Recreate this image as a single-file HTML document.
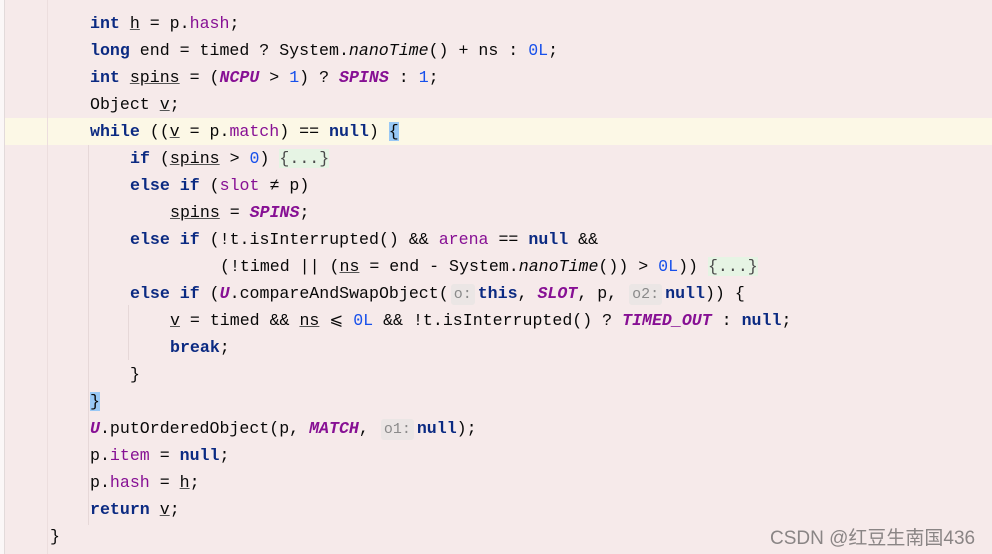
<!DOCTYPE html>
<html><head><meta charset="utf-8"><style>
html,body{margin:0;padding:0}
body{width:992px;height:554px;background:#f6eaea;position:relative;overflow:hidden;font-family:"Liberation Mono",monospace;font-size:16.6px;color:#080808}
.gut{position:absolute;left:0;top:0;width:4px;height:554px;background:#fbf7f7;border-right:1px solid #e2dada}
.g2{position:absolute;left:47px;top:0;width:1px;height:554px;background:#ecdede}
.hl{position:absolute;left:0;top:118px;width:992px;height:27px;background:#fcf8e6}
.l{position:absolute;left:0;height:27px;line-height:27px;white-space:pre}
.k{color:#0b2a82;font-weight:bold}
.f{color:#871094}
.fi{color:#871094;font-style:italic;font-weight:bold}
.n{color:#1750eb}
.i{font-style:italic}
.u{text-decoration:underline;text-decoration-color:#555}
.h{display:inline-block;background:#ebe6e5;color:#8a8a8a;font-size:15px;line-height:21px;padding:0 3px;border-radius:3px;margin:0 3px 0 2px}
.fold{background:#e6f4e4;color:#4a4a4a}
.br{background:#99c8f5}
.wm{position:absolute;left:770px;top:523px;font-family:"Liberation Sans","Noto Sans CJK SC",sans-serif;font-size:19px;color:#8a8585}
.vg{position:absolute;width:1px;background:#e6d8d8}
</style></head><body>
<div class="hl"></div>
<div class="gut"></div>
<div class="g2"></div>
<div class="vg" style="left:88px;top:145px;height:380px"></div>
<div class="vg" style="left:128px;top:305px;height:55px"></div>
<div class="l" style="top:10px;left:90px"><span class="k">int</span> <span class="u">h</span> = p.<span class="f">hash</span>;</div>
<div class="l" style="top:37px;left:90px"><span class="k">long</span> end = timed ? System.<span class="i">nanoTime</span>() + ns : <span class="n">0L</span>;</div>
<div class="l" style="top:64px;left:90px"><span class="k">int</span> <span class="u">spins</span> = (<span class="fi">NCPU</span> &gt; <span class="n">1</span>) ? <span class="fi">SPINS</span> : <span class="n">1</span>;</div>
<div class="l" style="top:91px;left:90px">Object <span class="u">v</span>;</div>
<div class="l" style="top:118px;left:90px"><span class="k">while</span> ((<span class="u">v</span> = p.<span class="f">match</span>) == <span class="k">null</span>) <span class="br">{</span></div>
<div class="l" style="top:145px;left:130px"><span class="k">if</span> (<span class="u">spins</span> &gt; <span class="n">0</span>) <span class="fold">{...}</span></div>
<div class="l" style="top:172px;left:130px"><span class="k">else if</span> (<span class="f">slot</span> ≠ p)</div>
<div class="l" style="top:199px;left:170px"><span class="u">spins</span> = <span class="fi">SPINS</span>;</div>
<div class="l" style="top:226px;left:130px"><span class="k">else if</span> (!t.isInterrupted() &amp;&amp; <span class="f">arena</span> == <span class="k">null</span> &amp;&amp;</div>
<div class="l" style="top:253px;left:220px">(!timed || (<span class="u">ns</span> = end - System.<span class="i">nanoTime</span>()) &gt; <span class="n">0L</span>)) <span class="fold">{...}</span></div>
<div class="l" style="top:280px;left:130px"><span class="k">else if</span> (<span class="fi">U</span>.compareAndSwapObject(<span class="h">o:</span><span class="k">this</span>, <span class="fi">SLOT</span>, p, <span class="h">o2:</span><span class="k">null</span>)) {</div>
<div class="l" style="top:307px;left:170px"><span class="u">v</span> = timed &amp;&amp; <span class="u">ns</span> ⩽ <span class="n">0L</span> &amp;&amp; !t.isInterrupted() ? <span class="fi">TIMED_OUT</span> : <span class="k">null</span>;</div>
<div class="l" style="top:334px;left:170px"><span class="k">break</span>;</div>
<div class="l" style="top:361px;left:130px">}</div>
<div class="l" style="top:388px;left:90px"><span class="br">}</span></div>
<div class="l" style="top:415px;left:90px"><span class="fi">U</span>.putOrderedObject(p, <span class="fi">MATCH</span>, <span class="h">o1:</span><span class="k">null</span>);</div>
<div class="l" style="top:442px;left:90px">p.<span class="f">item</span> = <span class="k">null</span>;</div>
<div class="l" style="top:469px;left:90px">p.<span class="f">hash</span> = <span class="u">h</span>;</div>
<div class="l" style="top:496px;left:90px"><span class="k">return</span> <span class="u">v</span>;</div>
<div class="l" style="top:523px;left:50px">}</div>
<div class="wm">CSDN @红豆生南国436</div>
</body></html>
